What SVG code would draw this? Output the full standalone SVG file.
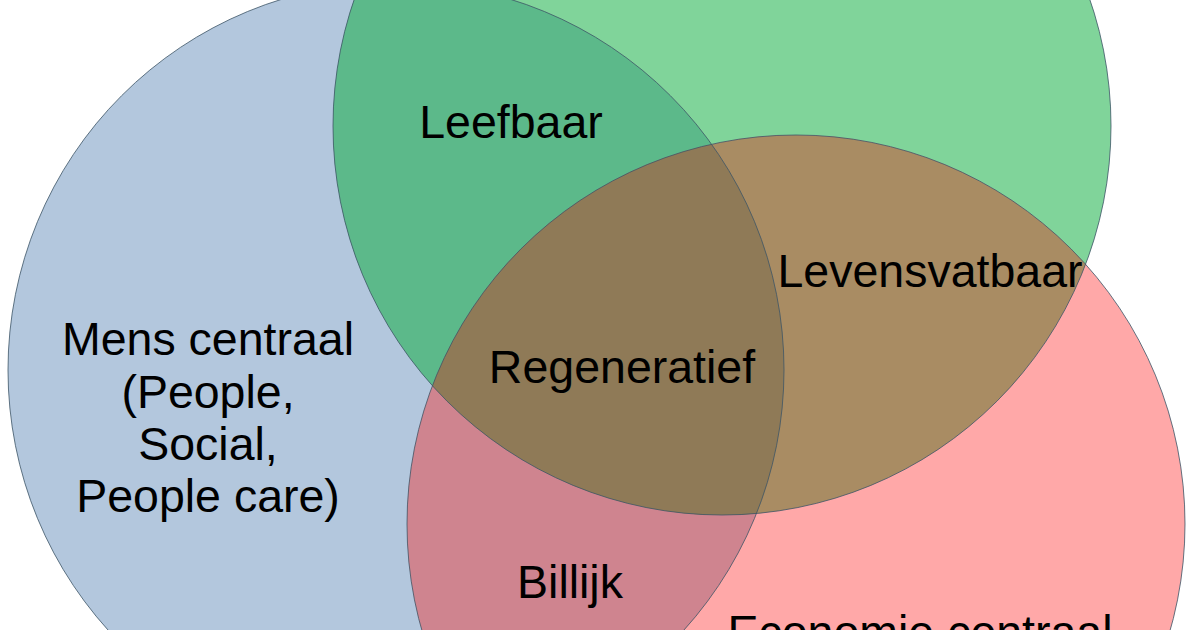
<svg xmlns="http://www.w3.org/2000/svg" width="1200" height="630" viewBox="0 0 1200 630">
<style>
text{font-family:"Liberation Sans",Arial,sans-serif;font-size:46.5px;fill:#000;text-anchor:middle}
.o{fill:none;stroke:#3d5566;stroke-width:1;stroke-opacity:.8}
</style>
<defs>
<clipPath id="cb"><circle cx="396" cy="370" r="388"/></clipPath>
<clipPath id="cg"><circle cx="722" cy="126" r="389"/></clipPath>
<clipPath id="cr"><circle cx="796" cy="524" r="389"/></clipPath>
</defs>
<rect width="1200" height="630" fill="#fff"/>
<g id="blue"><circle cx="396" cy="370" r="388" fill="#b3c7dd"/></g>
<g id="green"><circle cx="722" cy="126" r="389" fill="#80d49a"/></g>
<g id="red"><circle cx="796" cy="524" r="389" fill="#ffa8a8"/></g>
<g id="overlaps">
<g clip-path="url(#cb)"><circle cx="722" cy="126" r="389" fill="#5cb98a"/><circle cx="796" cy="524" r="389" fill="#cf848f"/></g>
<g clip-path="url(#cg)"><circle cx="796" cy="524" r="389" fill="#a98c63"/></g>
<g clip-path="url(#cg)"><g clip-path="url(#cb)"><circle cx="796" cy="524" r="389" fill="#8f7a57"/></g></g>
</g>
<g id="outlines">
<circle class="o" cx="396" cy="370" r="388"/>
<circle class="o" cx="722" cy="126" r="389"/>
<circle class="o" cx="796" cy="524" r="389"/>
</g>
<g id="labels">
<text x="511" y="138">Leefbaar</text>
<text x="930" y="287">Levensvatbaar</text>
<text x="622" y="383">Regeneratief</text>
<text x="208" y="355">Mens centraal</text>
<text x="208" y="408">(People,</text>
<text x="208" y="460">Social,</text>
<text x="208" y="512">People care)</text>
<text x="570" y="598">Billijk</text>
<text x="920" y="648">Economie centraal</text>
</g>
</svg>
